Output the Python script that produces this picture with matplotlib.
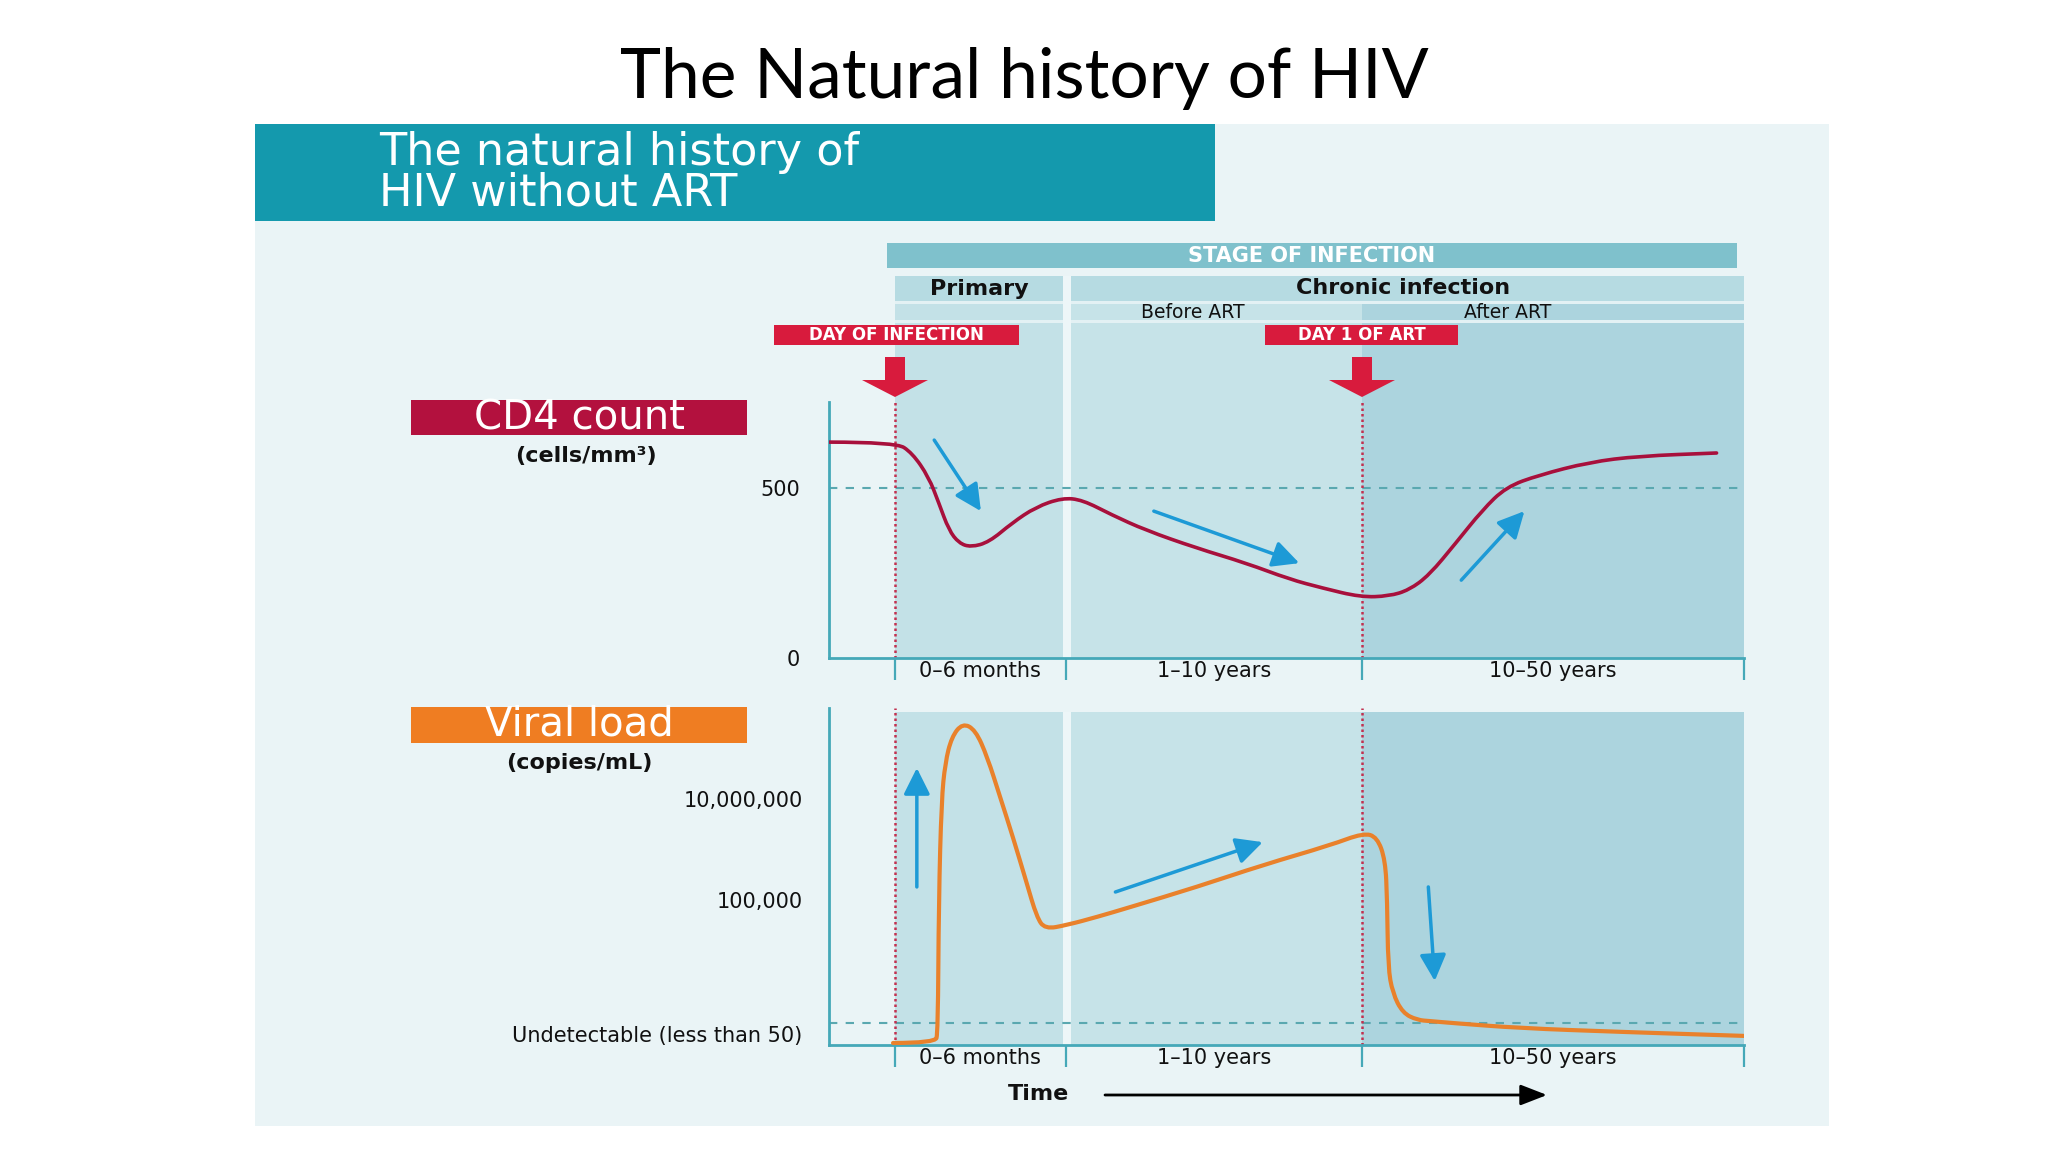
import matplotlib
matplotlib.use('Agg')
import matplotlib.pyplot as plt
from matplotlib.patches import Rectangle, Polygon, PathPatch
from matplotlib.path import Path

plt.rcParams['font.family'] = 'DejaVu Sans'

# --- data (time on a 0-100 schematic axis) ---
cd4_time = [0, 7.3, 9.1, 10.9, 12.0, 13.1, 14.2, 15.5, 17.5, 20.0, 22.6, 25.5, 27.7,
            30.9, 34.6, 40.1, 45.6, 50.3, 53.9, 58.1, 61.2, 63.4, 65.6, 68.5, 71.4,
            74.0, 77.6, 83.1, 88.5, 97.0]
cd4_count = [635, 635, 603, 532, 456, 376, 338, 326, 341, 397, 444, 471, 465,
             421, 376, 324, 279, 232, 206, 179, 182, 200, 244, 338, 435,
             503, 538, 576, 594, 603]

vl_time = [7.0, 11.6, 11.9, 12.0, 12.3, 12.7, 13.4, 14.6, 16.0, 17.3, 18.7, 20.1, 21.6,
           22.7, 23.6, 26.0, 29.3, 32.9, 40.2, 47.4, 54.8, 58.4, 59.9, 60.8, 61.0,
           61.1, 61.6, 62.7, 64.3, 65.7, 68.2, 75.5, 86.4, 100]
vl_level = [0.6, 0.6, 3.6, 43.0, 72.7, 83.7, 91.4, 95.5, 93.5, 85.5, 73.6, 61.7, 48.1,
            38.0, 34.4, 35.6, 38.0, 40.9, 46.9, 53.4, 59.3, 62.9, 61.7, 54.9, 43.0,
            23.1, 15.4, 9.5, 7.4, 7.1, 6.5, 5.0, 3.9, 2.7]

stage_bounds = [7.2, 25.9, 58.3, 100]
period_labels = ['0–6 months', '1–10 years', '10–50 years']

cd4_ticks = [0, 500]
cd4_tick_labels = ['0', '500']
cd4_top = 753

vl_ticks = [3.3, 43.0, 73.0]
vl_tick_labels = ['Undetectable (less than 50)', '100,000', '10,000,000']
vl_undetectable = 6.5

cd4_arrows = [((11.5, 641), (16.6, 432)),
              ((35.5, 432), (51.4, 279)),
              ((69.1, 229), (76.0, 432))]
vl_arrows = [((9.6, 46.9), (9.6, 82.2)),
             ((31.3, 45.4), (47.4, 60.2)),
             ((65.5, 46.9), (66.2, 19.0))]

# --- colours ---
teal = '#1499ad'
axis_c = '#45a8b8'
red = '#d81b3d'
crimson = '#a8103c'
orange = '#e9812b'
blue = '#1d9ad6'
dot_red = '#c2304f'
ink = '#111111'

W, H = 2048, 1152
fig = plt.figure(figsize=(20.48, 11.52), dpi=100, facecolor='white')

bg = fig.add_axes([0, 0, 1, 1])
bg.set_xlim(0, W)
bg.set_ylim(H, 0)
bg.axis('off')


def rect(x0, y0, x1, y1, color, z=1):
    bg.add_patch(Rectangle((x0, y0), x1 - x0, y1 - y0, facecolor=color,
                           edgecolor='none', zorder=z))


# slide title
bg.text(1024, 78, 'The Natural history of HIV', ha='center', va='center',
        fontsize=50, family='Lato', color='black')

# infographic panel
rect(255, 124, 1829, 1126, '#eaf4f6', 0)
rect(255, 124, 1215, 221, teal, 1)
bg.text(379, 173, 'The natural history of\nHIV without ART', ha='left',
        va='center', fontsize=32, color='white', linespacing=0.92)

# stage header
rect(887, 243, 1737, 268, '#7fc1cc', 1)
bg.text(1312, 256, 'STAGE OF INFECTION', ha='center', va='center',
        fontsize=15, fontweight='bold', color='white')

# column shading, both panels
x_inf, x_prim, x_gap, x_art, x_end = 895, 1063, 1071, 1362, 1744
for y0, y1 in [(276, 658), (712, 1045)]:
    rect(x_inf, y0, x_prim, y1, '#c3e1e7', 1)
    rect(x_prim, y0, x_gap, y1, '#edf6f8', 1)
    rect(x_gap, y0, x_art, y1, '#c6e3e8', 1)
    rect(x_art, y0, x_end, y1, '#acd4de', 1)

rect(x_inf, 276, x_prim, 301, '#b6dbe2', 2)
rect(x_gap, 276, x_end, 301, '#b6dbe2', 2)
rect(x_inf, 301, x_end, 304, '#e3f1f4', 2)
rect(x_inf, 320, x_end, 323, '#e3f1f4', 2)
rect(x_prim, 276, x_gap, 658, '#edf6f8', 2)

bg.text(979, 289, 'Primary', ha='center', va='center', fontsize=16,
        fontweight='bold', color=ink, zorder=3)
bg.text(1403, 288, 'Chronic infection', ha='center', va='center', fontsize=16,
        fontweight='bold', color=ink, zorder=3)
bg.text(1193, 312, 'Before ART', ha='center', va='center', fontsize=13.5,
        color=ink, zorder=3)
bg.text(1508, 312, 'After ART', ha='center', va='center', fontsize=13.5,
        color=ink, zorder=3)

# red markers
for (bx0, bx1, label), xc in [((774, 1019, 'DAY OF INFECTION'), x_inf),
                              ((1265, 1458, 'DAY 1 OF ART'), x_art)]:
    rect(bx0, 325, bx1, 345, red, 3)
    bg.text((bx0 + bx1) / 2, 335.5, label, ha='center', va='center',
            fontsize=12, fontweight='bold', color='white', zorder=4)
    bg.add_patch(Polygon([(xc - 10, 357), (xc + 10, 357), (xc + 10, 380),
                          (xc + 33, 380), (xc, 397), (xc - 33, 380),
                          (xc - 10, 380)], closed=True, facecolor=red,
                         edgecolor='none', zorder=4))

# panel labels
rect(411, 400, 747, 435, '#b3113e', 2)
bg.text(579, 418, 'CD4 count', ha='center', va='center', fontsize=29,
        color='white', zorder=3)
bg.text(586, 456, '(cells/mm³)', ha='center', va='center', fontsize=16,
        fontweight='bold', color=ink)
rect(411, 707, 747, 743, '#ef7d22', 2)
bg.text(579, 725, 'Viral load', ha='center', va='center', fontsize=29,
        color='white', zorder=3)
bg.text(579, 763, '(copies/mL)', ha='center', va='center', fontsize=16,
        fontweight='bold', color=ink)

# time arrow
bg.text(1038, 1094, 'Time', ha='center', va='center', fontsize=16,
        fontweight='bold', color=ink)
bg.annotate('', xy=(1547, 1095), xytext=(1105, 1095),
            arrowprops=dict(arrowstyle='-|>,head_length=0.9,head_width=0.35',
                            color='black', lw=2, mutation_scale=18,
                            shrinkA=0, shrinkB=0))


def smooth_line(ax, xs, ys, color, lw):
    # quadratic bezier through midpoints, read points act as control points
    pts = list(zip(xs, ys))
    verts = [pts[0]]
    codes = [Path.MOVETO]
    for i in range(1, len(pts) - 1):
        mid = ((pts[i][0] + pts[i + 1][0]) / 2, (pts[i][1] + pts[i + 1][1]) / 2)
        verts += [pts[i], mid]
        codes += [Path.CURVE3, Path.CURVE3]
    verts.append(pts[-1])
    codes.append(Path.LINETO)
    ax.add_patch(PathPatch(Path(verts, codes), facecolor='none', edgecolor=color,
                           lw=lw, zorder=3, capstyle='round', joinstyle='round'))


def panel(y_top, y_bot):
    ax = fig.add_axes([829 / W, 1 - y_bot / H, 915 / W, (y_bot - y_top) / H])
    ax.patch.set_alpha(0)
    ax.set_xlim(0, 100)
    for s in ['top', 'right']:
        ax.spines[s].set_visible(False)
    for s in ['left', 'bottom']:
        ax.spines[s].set_color(axis_c)
        ax.spines[s].set_linewidth(2)
    ax.set_xticks(stage_bounds)
    ax.set_xticklabels([])
    ax.tick_params(axis='x', which='major', length=16, width=1.6,
                   color=axis_c, direction='out')
    mids = [(a + b) / 2 for a, b in zip(stage_bounds[:-1], stage_bounds[1:])]
    ax.set_xticks(mids, minor=True)
    ax.set_xticklabels(period_labels, minor=True, fontsize=15, color=ink)
    ax.tick_params(axis='x', which='minor', length=0, pad=2)
    for xv in [stage_bounds[0], stage_bounds[2]]:
        ax.axvline(xv, color=dot_red, lw=1.8, ls=(0, (1, 1.2)), zorder=2)
    return ax


def blue_arrows(ax, arrows):
    for tail, tip in arrows:
        ax.annotate('', xy=tip, xytext=tail,
                    arrowprops=dict(arrowstyle='-|>,head_length=0.8,head_width=0.4',
                                    color=blue, lw=2.5, mutation_scale=20,
                                    shrinkA=0, shrinkB=0), zorder=4)


# CD4 panel
ax1 = panel(402, 658)
ax1.set_ylim(0, cd4_top)
ax1.set_yticks(cd4_ticks)
ax1.set_yticklabels(cd4_tick_labels, fontsize=15, color=ink)
ax1.tick_params(axis='y', length=0, pad=21)
ax1.axhline(500, color='#5aa8b0', lw=1.5, ls=(0, (4, 4)), zorder=1)
smooth_line(ax1, cd4_time, cd4_count, crimson, 2.6)
blue_arrows(ax1, cd4_arrows)

# viral load panel
ax2 = panel(708, 1045)
ax2.set_ylim(0, 100)
ax2.set_yticks(vl_ticks)
ax2.set_yticklabels(vl_tick_labels, fontsize=15, color=ink)
ax2.tick_params(axis='y', length=0, pad=19)
ax2.axhline(vl_undetectable, color='#5aa8b0', lw=1.5, ls=(0, (4, 4)), zorder=1)
smooth_line(ax2, vl_time, vl_level, orange, 3)
blue_arrows(ax2, vl_arrows)

fig.savefig('out.png', dpi=100, facecolor='white')
